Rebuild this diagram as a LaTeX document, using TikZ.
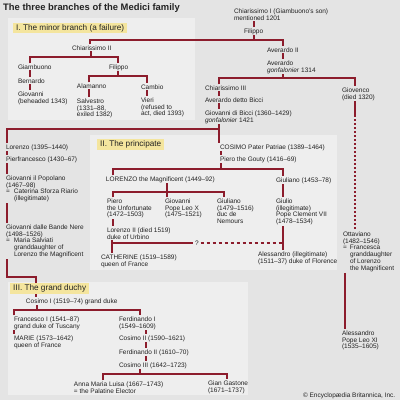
\documentclass[tikz,border=0pt]{standalone}
\usepackage{fontspec}
\setmainfont{Liberation Sans}
\newcommand\fs{\fontsize{6.5}{6.9}\selectfont}
\definecolor{bgc}{HTML}{E4E4E4}
\definecolor{panelc}{HTML}{EEEEEE}
\definecolor{maroon}{HTML}{8C1C2C}
\definecolor{labc}{HTML}{F4E59E}
\definecolor{txt}{HTML}{222222}
\begin{document}
\begin{tikzpicture}[x=1pt,y=-1pt,
  nm/.style={anchor=north west, inner sep=0pt, outer sep=1pt, font=\fs, align=left, text=txt},
  lnk/.style={draw=maroon, line width=1.1pt},
  dsh/.style={lnk, dash pattern=on 2pt off 2pt},
  lab/.style={fill=labc, anchor=west, inner xsep=3pt, inner ysep=0pt, minimum height=10.5pt, font=\fontsize{8.2}{9}\selectfont, text=txt},
]
\fill[bgc] (0,0) rectangle (400,400);
\useasboundingbox (0,0) rectangle (400,400);
\fill[panelc] (8,18) rectangle (195,120);
\fill[panelc] (90,135) rectangle (337,270);
\fill[panelc] (8,282) rectangle (248,395);

\node[anchor=west, inner sep=0pt, font=\bfseries\fontsize{9.4}{11}\selectfont, text=txt] (title) at (3,8) {The three branches of the Medici family};

% top
\node[nm] (c1) at (233,7.4) {Chiarissimo I (Giambuono’s son)\\mentioned 1201};
\node[nm] (fil0) at (243,27.4) {Filippo};
\node[nm] (av2) at (266,46.4) {Averardo II};
\node[nm] (av) at (266,59.4) {Averardo\\\textit{gonfalonier} 1314};
\node[nm] (gio) at (341,86.4) {Giovenco\\(died 1320)};
% minor branch
\node[nm] (c2) at (71,44.4) {Chiarissimo II};
\node[nm] (giam) at (17,63.4) {Giambuono};
\node[nm] (filb) at (108,63.4) {Filippo};
\node[nm] (bern) at (17,77.4) {Bernardo};
\node[nm] (giov1) at (17,90.4) {Giovanni\\(beheaded 1343)};
\node[nm] (alam) at (76,82.4) {Alamanno};
\node[nm] (salv) at (76,97.4) {Salvestro\\(1331–88,\\exiled 1382)};
\node[nm] (camb) at (140,83.4) {Cambio};
\node[nm] (vieri) at (140,96.4) {Vieri\\(refused to\\act, died 1393)};
% Bicci
\node[nm] (c3) at (204,84.4) {Chiarissimo III};
\node[nm] (avb) at (204,96.4) {Averardo detto Bicci};
\node[nm] (gdb) at (204,109.4) {Giovanni di Bicci (1360–1429)\\\textit{gonfalonier} 1421};
% left branch
\node[nm] (lor1) at (5,143.4) {Lorenzo (1395–1440)};
\node[nm] (pier) at (5,155.4) {Pierfrancesco (1430–67)};
\node[nm] (gpop) at (5,174.4) {Giovanni il Popolano\\(1467–98)\\\makebox[8pt][l]{=}Caterina Sforza Riario\\\hspace*{8pt}(illegitimate)};
\node[nm] (gbn) at (5,223.4) {Giovanni dalle Bande Nere\\(1498–1526)\\\makebox[8pt][l]{=}Maria Salviati\\\hspace*{8pt}granddaughter of\\\hspace*{8pt}Lorenzo the Magnificent};
% principate
\node[nm] (cos) at (219,143.4) {COSIMO Pater Patriae (1389–1464)};
\node[nm] (ptg) at (219,155.4) {Piero the Gouty (1416–69)};
\node[nm] (lmag) at (105,175.4) {LORENZO the Magnificent (1449–92)};
\node[nm] (giu1) at (275,176.4) {Giuliano (1453–78)};
\node[nm] (piero) at (106,197.4) {Piero\\the Unfortunate\\(1472–1503)};
\node[nm] (gleo) at (164,197.4) {Giovanni\\Pope Leo X\\(1475–1521)};
\node[nm] (giu2) at (216,197.4) {Giuliano\\(1479–1516)\\duc de\\Nemours};
\node[nm] (giulio) at (275,197.4) {Giulio\\(illegitimate)\\Pope Clement VII\\(1478–1534)};
\node[nm] (lor2) at (106,226.4) {Lorenzo II (died 1519)\\duke of Urbino};
\node[nm] (cath) at (100,253.4) {CATHERINE (1519–1589)\\queen of France};
\node[nm] (ales1) at (257,250.4) {Alessandro (illegitimate)\\(1511–37) duke of Florence};
\node[font=\fs, text=txt, inner sep=1.5pt] (q) at (197,243) {?};
\node[nm] (otta) at (342,230.4) {Ottaviano\\(1482–1546)\\\makebox[7pt][l]{=}Francesca\\\hspace*{7pt}granddaughter\\\hspace*{7pt}of Lorenzo\\\hspace*{7pt}the Magnificent};
\node[nm] (ales2) at (341,329.4) {Alessandro\\Pope Leo XI\\(1535–1605)};
% grand duchy
\node[nm] (cos1) at (25,297.4) {Cosimo I (1519–74) grand duke};
\node[nm] (fran) at (13,315.4) {Francesco I (1541–87)\\grand duke of Tuscany};
\node[nm] (marie) at (13,334.4) {MARIE (1573–1642)\\queen of France};
\node[nm] (fer1) at (118,315.4) {Ferdinando I\\(1549–1609)};
\node[nm] (cos2) at (118,334.4) {Cosimo II (1590–1621)};
\node[nm] (fer2) at (118,348.4) {Ferdinando II (1610–70)};
\node[nm] (cos3) at (118,361.4) {Cosimo III (1642–1723)};
\node[nm] (anna) at (73,380.4) {Anna Maria Luisa (1667–1743)\\= the Palatine Elector};
\node[nm] (gian) at (207,379.4) {Gian Gastone\\(1671–1737)};
\node[nm] (copy) at (302,391.4) {© Encyclopædia Britannica, Inc.};

% connectors: top
\draw[lnk] (c1.south -| 254,0) -- (fil0.north -| 254,0);
\draw[lnk] (fil0.south -| 254,0) -- (254,40);
\draw[lnk] (c2.north -| 90,0) |- (283,40) -- (av2.north -| 283,0);
\draw[lnk] (av2.south -| 283,0) -- (av.north -| 283,0);
\draw[lnk] (av.south -| 283,0) -- (283,78);
\draw[lnk] (c3.north -| 219,0) |- (355,78) -- (gio.north -| 355,0);
% minor branch
\draw[lnk] (c2.south -| 91,0) -- (91,57);
\draw[lnk] (giam.north -| 30,0) |- (118,57) -- (filb.north -| 118,0);
\draw[lnk] (giam.south -| 30,0) -- (bern.north -| 30,0);
\draw[lnk] (bern.south -| 30,0) -- (giov1.north -| 30,0);
\draw[lnk] (filb.south -| 118,0) -- (118,76);
\draw[lnk] (alam.north -| 89,0) |- (147,76) -- (camb.north -| 147,0);
\draw[lnk] (alam.south -| 89,0) -- (salv.north -| 89,0);
\draw[lnk] (camb.south -| 147,0) -- (vieri.north -| 147,0);
% Bicci
\draw[lnk] (c3.south -| 219,0) -- (avb.north -| 219,0);
\draw[lnk] (avb.south -| 219,0) -- (gdb.north -| 219,0);
\draw[lnk] (gdb.south -| 219,0) -- (cos.north -| 219,0);
\draw[lnk] (lor1.north -| 7,0) |- (219,129);
% left branch
\draw[lnk] (lor1.south -| 7,0) -- (pier.north -| 7,0);
\draw[lnk] (pier.south -| 7,0) -- (gpop.north -| 7,0);
\draw[lnk] (gpop.south -| 7,0) -- (gbn.north -| 7,0);
\draw[lnk] (gbn.south -| 7,0) |- (36,277) -- (cos1.north -| 36,0);
% principate
\draw[lnk] (cos.south -| 221,0) -- (ptg.north -| 221,0);
\draw[lnk] (ptg.south -| 221,0) -- (221,169);
\draw[lnk] (lmag.north -| 113,0) |- (283,169) -- (giu1.north -| 283,0);
\draw[lnk] (lmag.south -| 167,0) -- (gleo.north -| 167,0);
\draw[lnk] (piero.north -| 113,0) |- (224,192) -- (giu2.north -| 224,0);
\draw[lnk] (giu1.south -| 283,0) -- (giulio.north -| 283,0);
\draw[lnk] (piero.south -| 113,0) -- (lor2.north -| 113,0);
\draw[lnk] (lor2.south -| 112,0) -- (cath.north -| 112,0);
\draw[lnk] (112,243) -- (q.west);
\draw[lnk, dash pattern=on 3pt off 3pt] (q.east) -- (283,243);
\draw[lnk] (giulio.south -| 283,0) -- (ales1.north -| 283,0);
\draw[lnk] (gio.south -| 355,0) -- (355,115);
\draw[dsh] (355,115) -- (otta.north -| 355,0);
\draw[lnk] (otta.south -| 345,0) -- (ales2.north -| 345,0);
% grand duchy
\draw[lnk] (cos1.south -| 37,0) -- (37,310);
\draw[lnk] (fran.north -| 14,0) |- (140,310) -- (fer1.north -| 140,0);
\draw[lnk] (fran.south -| 14,0) -- (marie.north -| 14,0);
\draw[lnk] (fer1.south -| 146,0) -- (cos2.north -| 146,0);
\draw[lnk] (cos2.south -| 146,0) -- (fer2.north -| 146,0);
\draw[lnk] (fer2.south -| 146,0) -- (cos3.north -| 146,0);
\draw[lnk] (cos3.south -| 140,0) -- (140,374);
\draw[lnk] (anna.north -| 103,0) |- (227,374) -- (gian.north -| 227,0);

% labels
\node[lab] (l1) at (13,28) {I. The minor branch (a failure)};
\node[lab] (l2) at (97,144.5) {II. The principate};
\node[lab] (l3) at (10,288.5) {III. The grand duchy};
\end{tikzpicture}
\end{document}
